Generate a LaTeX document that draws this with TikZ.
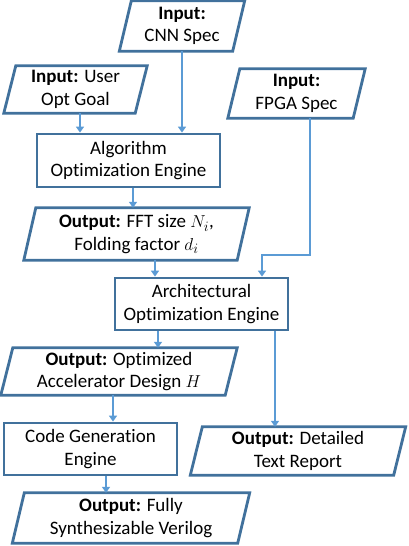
\documentclass[tikz,border=0pt]{standalone}
\usepackage{fontspec}
\setmainfont[Ligatures=NoCommon]{Carlito}
\usetikzlibrary{arrows.meta}
\definecolor{bordc}{HTML}{41719C}
\definecolor{arrc}{HTML}{5B9BD5}
\newcommand\parabox[1]{\draw[border] ([xshift=6pt]#1.north west) -- ([xshift=6pt]#1.north east) -- ([xshift=-6pt]#1.south east) -- ([xshift=-6pt]#1.south west) -- cycle;}
\tikzset{
  border/.style={draw=bordc, line width=2.8pt, line join=miter},
  base/.style={inner sep=0pt, align=center, font=\fontsize{19}{22.5}\selectfont, text=black},
  rbox/.style={base, border},
  pbox/.style={base},
  conn/.style={draw=arrc, line width=2.6pt, -{Triangle[length=6pt,width=8pt]}}
}
\begin{document}
\begin{tikzpicture}[x=1pt,y=-1pt]
\useasboundingbox (0,0) rectangle (408,546);
\node[pbox, minimum width=113pt, minimum height=50pt] (cnn) at (182,26) {\textbf{Input:}\\CNN Spec};
\node[pbox, minimum width=131pt, minimum height=47pt] (user) at (75.5,89.5) {\textbf{Input:} User\\Opt Goal};
\node[pbox, minimum width=125pt, minimum height=49pt] (fpga) at (296.5,93.5) {\textbf{Input:}\\FPGA Spec};
\node[rbox, minimum width=183pt, minimum height=53pt] (algo) at (128.5,160.5) {Algorithm\\Optimization Engine};
\node[pbox, minimum width=213pt, minimum height=52pt] (fft) at (136.5,234) {\textbf{Output:} FFT size $N_i$,\\Folding factor $d_i$};
\node[rbox, minimum width=173pt, minimum height=52pt] (arch) at (201.5,304) {Architectural\\Optimization Engine};
\node[pbox, minimum width=224pt, minimum height=47pt] (opt) at (119,371.5) {\textbf{Output:} Optimized\\Accelerator Design $H$};
\node[rbox, minimum width=173pt, minimum height=52pt] (code) at (90.5,449) {Code Generation\\Engine};
\node[pbox, minimum width=203pt, minimum height=48pt] (det) at (298,451) {\textbf{Output:} Detailed\\Text Report};
\node[pbox, minimum width=225pt, minimum height=50pt] (fully) at (131,518) {\textbf{Output:} Fully\\Synthesizable Verilog};
\parabox{cnn}
\parabox{user}
\parabox{fpga}
\parabox{fft}
\parabox{opt}
\parabox{det}
\parabox{fully}
\coordinate (fpgaturn) at ([xshift=13.5pt]fpga.south |- 0,255);
\coordinate (archin) at ([xshift=60.5pt]arch.north |- 0,255);
\draw[conn] (cnn.south) -- (cnn.south |- algo.north);
\draw[conn] ([xshift=4.5pt]user.south) -- ([xshift=4.5pt]user.south |- algo.north);
\draw[conn] ([xshift=4.5pt]algo.south) -- ([xshift=4.5pt]algo.south |- fft.north);
\draw[conn] ([xshift=18.5pt]fft.south) -- ([xshift=18.5pt]fft.south |- arch.north);
\draw[conn] ([xshift=13.5pt]fpga.south) -- (fpgaturn) -- (archin) -- ([xshift=60.5pt]arch.north);
\draw[conn] ([xshift=-43.5pt]arch.south) -- ([xshift=-43.5pt]arch.south |- opt.north);
\draw[conn] ([xshift=73.5pt]arch.south) -- ([xshift=73.5pt]arch.south |- det.north);
\draw[conn] ([xshift=-6pt]opt.south) -- ([xshift=-6pt]opt.south |- code.north);
\draw[conn] ([xshift=15.5pt]code.south) -- ([xshift=15.5pt]code.south |- fully.north);
\end{tikzpicture}
\end{document}
